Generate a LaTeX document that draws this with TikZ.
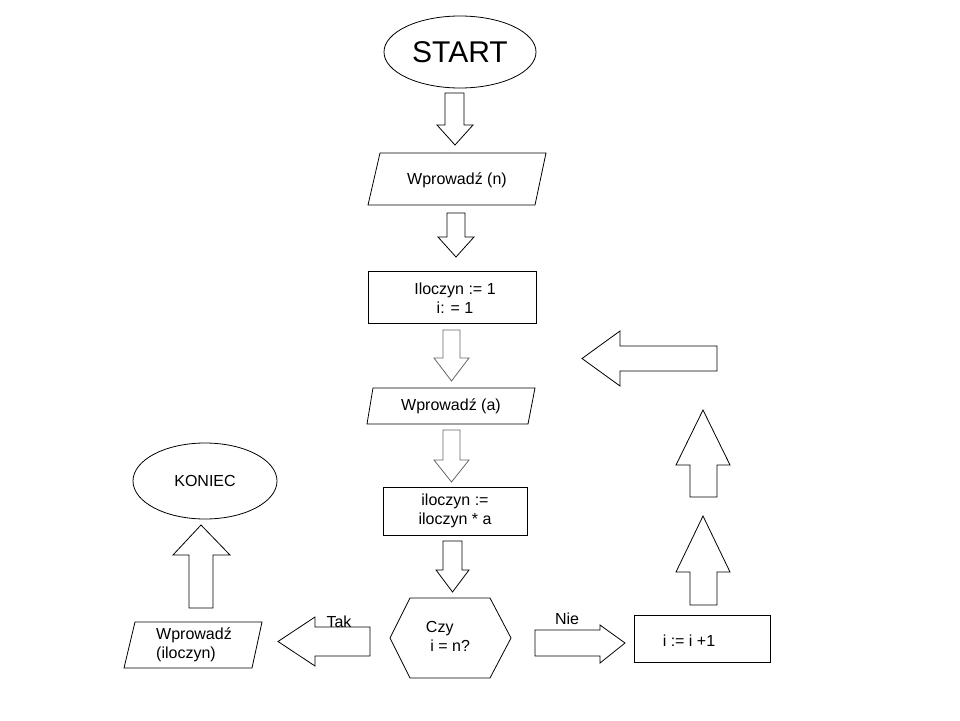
\documentclass[tikz,border=0pt]{standalone}
\usepackage{fontspec}
\setmainfont{Liberation Sans}
\usetikzlibrary{shapes.geometric}
\begin{document}
\begin{tikzpicture}[x=1pt,y=-1pt,
  box/.style={draw=black,line width=0.8pt,fill=white},
  arr/.style={draw=black,line width=0.8pt,fill=white},
  garr/.style={draw=black!60,line width=0.8pt,fill=white},
  txt/.style={font=\fontsize{16}{19}\selectfont,align=center}]
\useasboundingbox (0,0) rectangle (960,720);
% START
\node[ellipse,box,minimum width=152,minimum height=72,font=\fontsize{30}{34}\selectfont] (start) at (460,52) {START};
\draw[arr] (445,93) -- (464,93) -- (464,125) -- (473,125) -- (455,145) -- (437,125) -- (445,125) -- cycle;
% Wprowadz n
\draw[box] (380,153) -- (546,153) -- (535,205) -- (368,205) -- cycle;
\node[txt] (wn) at (457,180) {Wprowadź (n)};
\draw[arr] (447,213) -- (465,213) -- (465,237) -- (474,237) -- (456,257) -- (438,237) -- (447,237) -- cycle;
% init
\draw[box] (368,271) rectangle (536,323);
\node[txt] (init) at (455,298) {Iloczyn := 1\\i: = 1};
\draw[garr] (443,330) -- (460,330) -- (460,358) -- (469,358) -- (451.5,381) -- (434,358) -- (443,358) -- cycle;
% Wprowadz a
\draw[box] (373,388) -- (535,388) -- (528,424) -- (367,424) -- cycle;
\node[txt] (wa) at (451,406) {Wprowadź (a)};
\draw[garr] (443,430) -- (460,430) -- (460,460) -- (469,460) -- (451.5,482) -- (434,460) -- (443,460) -- cycle;
% iloczyn
\draw[box] (383,487) rectangle (527,535);
\node[txt] (il) at (455,511) {iloczyn :=\\iloczyn * a};
\draw[arr] (443,541) -- (462,541) -- (462,570) -- (469,570) -- (452.5,592) -- (436,570) -- (443,570) -- cycle;
% hexagon
\draw[box] (410,598) -- (490,598) -- (511,638) -- (490,678) -- (410,678) -- (390,638) -- cycle;
\node[txt,align=left] (hx) at (448,636) {Czy\\\ i = n?};
% Tak arrow
\draw[arr] (370,627) -- (315,627) -- (315,617) -- (278,641.5) -- (315,666) -- (315,656) -- (370,656) -- cycle;
\node[txt] (tak) at (339,622) {Tak};
% Wprowadz iloczyn
\draw[box] (135,622) -- (262,622) -- (252,668) -- (124,668) -- cycle;
\node[txt,align=left] (wi) at (194,645) {Wprowadź\\(iloczyn)};
\draw[arr] (189,608) -- (189,555) -- (173,555) -- (201,525) -- (230,555) -- (213,555) -- (213,608) -- cycle;
\node[ellipse,box,minimum width=144,minimum height=76,txt] (kon) at (205,481) {KONIEC};
% Nie arrow
\draw[arr] (535,630) -- (600,630) -- (600,625) -- (625,643) -- (600,663) -- (600,656) -- (535,656) -- cycle;
\node[txt] (nie) at (567,619) {Nie};
\draw[box] (634,615) rectangle (770,662);
\node[txt] (inc) at (689,641) {i := i +1};
% up arrows
\draw[arr] (690,605) -- (690,572) -- (676,572) -- (703,516) -- (730,572) -- (717,572) -- (717,605) -- cycle;
\draw[arr] (690,497) -- (690,465) -- (676,465) -- (703,410) -- (730,465) -- (717,465) -- (717,497) -- cycle;
% left arrow
\draw[arr] (717,346) -- (620,346) -- (620,331) -- (582,358.5) -- (620,386) -- (620,371) -- (717,371) -- cycle;
\end{tikzpicture}
\end{document}
